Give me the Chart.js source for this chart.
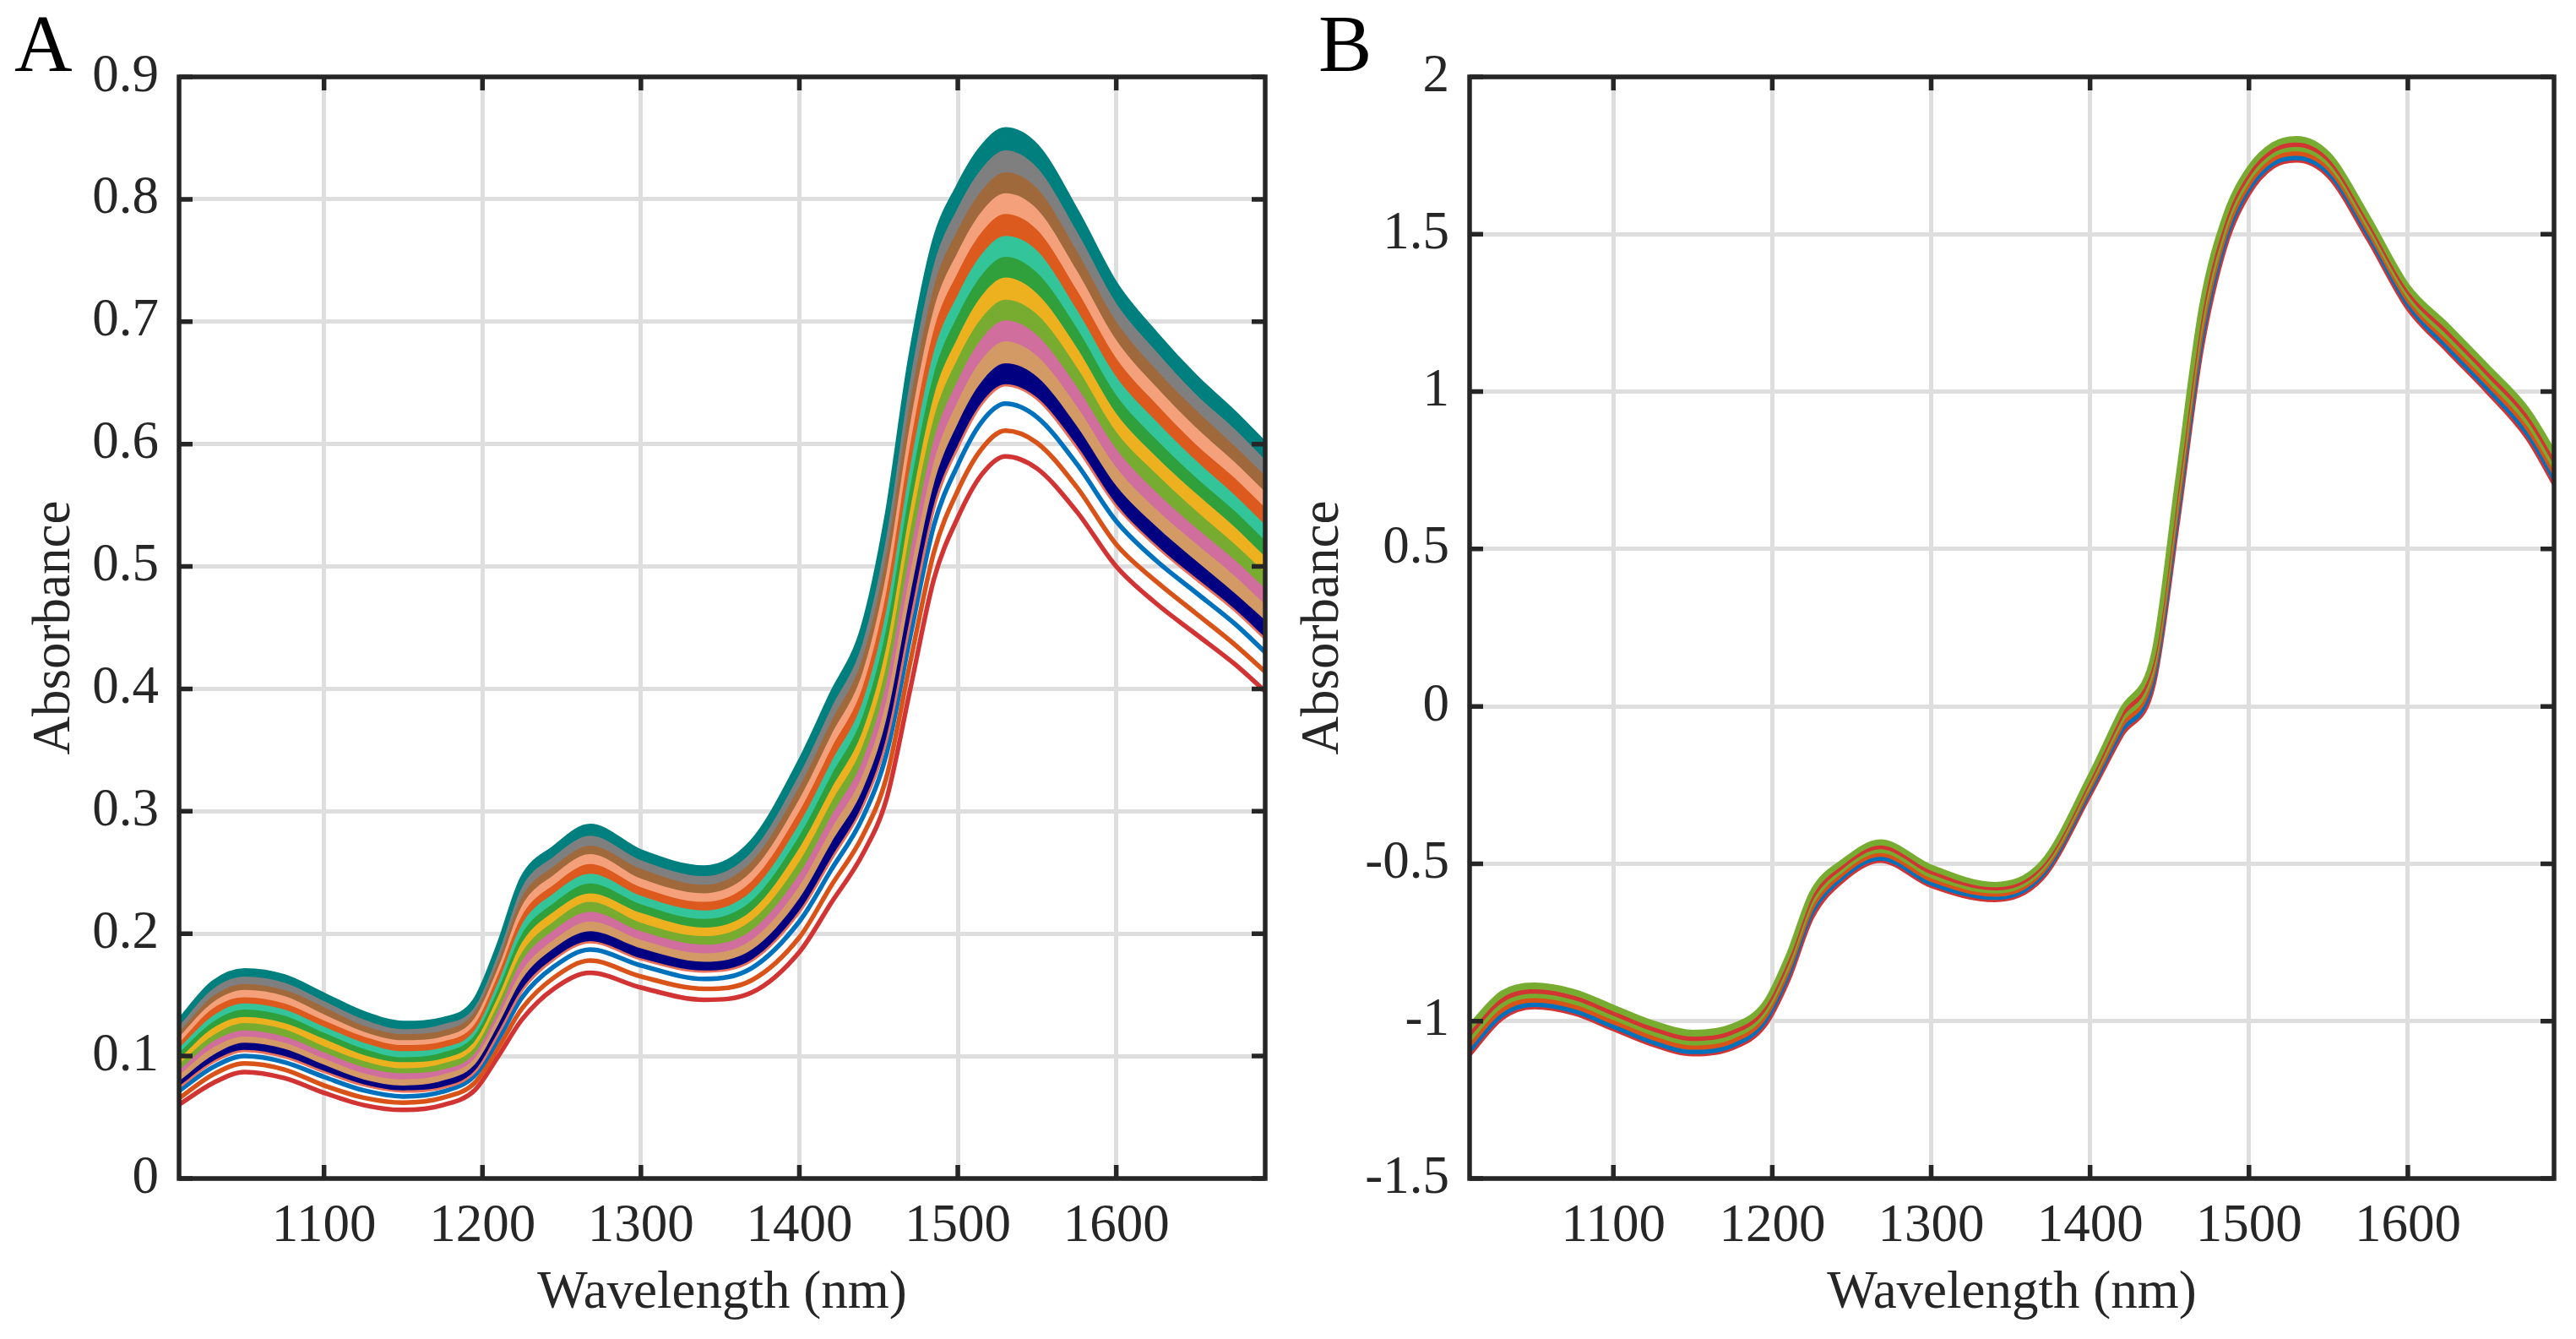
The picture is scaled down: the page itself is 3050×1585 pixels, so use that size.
<!DOCTYPE html>
<html>
<head>
<meta charset="utf-8">
<script src="https://cdn.jsdelivr.net/npm/chart.js@4.4.1/dist/chart.umd.min.js"></script>
<style>
  html, body { margin: 0; padding: 0; background: #fff; overflow: hidden; }
  #wrap { position: relative; width: 3050px; height: 1585px; }
  canvas { position: absolute; top: 0; }
  .panel { position: absolute; font-family: "Liberation Serif", serif; font-size: 95px; line-height: 1; color: #000; }
</style>
</head>
<body>
<div id="wrap">
  <canvas id="chartA" width="1525" height="1585" style="left:0px"></canvas>
  <canvas id="chartB" width="1525" height="1585" style="left:1525px"></canvas>
  <div class="panel" style="left:17px; top:5px;">A</div>
  <div class="panel" style="left:1561px; top:5px;">B</div>
</div>
<script>
// wavelengths (nm) shared by every spectrum
const wl = [1008,1030,1050,1075,1100,1125,1150,1175,1195,1210,1225,1245,1268,1300,1340,1370,1400,1420,1440,1455,1470,1485,1500,1515,1530,1550,1575,1600,1625,1650,1675,1694];

const xTicks = [1100, 1200, 1300, 1400, 1500, 1600];
const yTicksA = [0, 0.1, 0.2, 0.3, 0.4, 0.5, 0.6, 0.7, 0.8, 0.9];
const yTicksB = [-1.5, -1, -0.5, 0, 0.5, 1, 1.5, 2];

// panel A, raw absorbance, top of the band first
const a01 = [.128,.160,.170,.165,.150,.135,.127,.130,.145,.190,.245,.270,.288,.267,.254,.275,.340,.395,.450,.540,.670,.765,.810,.842,.857,.843,.790,.730,.690,.655,.625,.600];
const a02 = [.124,.155,.165,.160,.145,.130,.122,.126,.140,.184,.238,.263,.280,.260,.247,.267,.330,.384,.438,.525,.653,.747,.793,.825,.840,.826,.774,.715,.676,.641,.612,.587];
const a03 = [.119,.149,.159,.154,.140,.125,.118,.121,.136,.178,.230,.255,.272,.253,.240,.259,.320,.373,.426,.510,.635,.729,.775,.807,.822,.809,.758,.700,.661,.628,.598,.574];
const a04 = [.115,.144,.154,.149,.134,.120,.113,.116,.131,.173,.223,.248,.265,.245,.233,.251,.310,.362,.414,.495,.617,.711,.757,.790,.805,.792,.742,.685,.647,.614,.585,.561];
const a05 = [.110,.139,.148,.143,.129,.116,.109,.112,.126,.167,.215,.240,.257,.238,.226,.243,.300,.351,.402,.480,.600,.694,.740,.773,.788,.775,.726,.670,.633,.600,.572,.548];
const a06 = [.106,.133,.143,.138,.124,.111,.104,.107,.121,.161,.208,.233,.249,.231,.219,.235,.290,.340,.390,.465,.582,.676,.722,.755,.770,.758,.710,.655,.619,.587,.558,.534];
const a07 = [.102,.128,.138,.133,.119,.106,.099,.103,.117,.155,.200,.225,.241,.224,.212,.227,.280,.329,.378,.450,.565,.658,.705,.738,.753,.740,.695,.640,.604,.573,.545,.521];
const a08 = [.097,.123,.132,.127,.114,.101,.095,.098,.112,.149,.193,.218,.233,.217,.205,.219,.270,.318,.366,.435,.547,.640,.687,.721,.736,.723,.679,.625,.590,.560,.532,.508];
const a09 = [.093,.117,.127,.122,.108,.096,.090,.094,.107,.143,.185,.210,.226,.209,.198,.211,.259,.307,.354,.420,.530,.622,.670,.703,.718,.706,.663,.610,.576,.546,.518,.495];
const a10 = [.088,.112,.121,.116,.103,.091,.086,.089,.102,.137,.178,.203,.218,.202,.191,.203,.249,.296,.342,.406,.512,.604,.652,.686,.701,.689,.647,.596,.561,.532,.505,.482];
const a11 = [.084,.107,.116,.111,.098,.086,.081,.085,.098,.132,.170,.195,.210,.195,.184,.195,.239,.285,.330,.391,.495,.586,.635,.669,.684,.672,.631,.581,.547,.519,.492,.469];
const a12 = [.079,.101,.111,.106,.093,.081,.076,.080,.093,.126,.163,.188,.202,.188,.177,.187,.229,.274,.318,.376,.477,.568,.617,.651,.666,.655,.615,.566,.533,.505,.478,.456];
const a13 = [.075,.096,.105,.100,.088,.077,.072,.075,.088,.120,.155,.180,.194,.180,.170,.179,.219,.262,.306,.361,.459,.551,.599,.634,.649,.638,.599,.551,.518,.491,.465,.442];
const a14 = [.071,.091,.100,.095,.083,.072,.067,.071,.084,.114,.148,.173,.187,.174,.163,.172,.210,.252,.295,.347,.443,.534,.583,.618,.633,.622,.584,.537,.505,.479,.453,.430];
const a15 = [.065,.085,.094,.089,.076,.066,.062,.066,.078,.107,.139,.164,.178,.165,.155,.162,.197,.239,.280,.328,.422,.512,.562,.596,.611,.601,.565,.518,.488,.462,.436,.414];
const a16 = [.060,.078,.087,.082,.070,.060,.056,.060,.072,.100,.130,.155,.168,.156,.146,.152,.185,.225,.265,.310,.400,.490,.540,.575,.590,.580,.545,.500,.470,.445,.420,.398];
const spectraA = [a01,a02,a03,a04,a05,a06,a07,a08,a09,a10,a11,a12,a13,a14,a15,a16];
const colorsA = ['#007f7f','#7f7f7f','#a0693c','#f4a07a','#dd5a1e','#33c49a','#2fa03c','#edb120','#77ac30','#d06e9e','#d39a66','#000080','#e86f5a','#0072bd','#d95319','#d23434'];
// the last three sit apart from the band, not filled
const bandA = 13;

// panel B, after SNV
const b1 = [-1.025,-0.910,-0.885,-0.905,-0.955,-1.005,-1.035,-1.015,-0.945,-0.790,-0.590,-0.490,-0.430,-0.510,-0.565,-0.495,-0.220,-0.010,0.170,0.720,1.270,1.560,1.710,1.785,1.805,1.755,1.555,1.335,1.210,1.080,0.945,0.790];
const b2 = [-1.043,-0.926,-0.899,-0.919,-0.969,-1.019,-1.049,-1.029,-0.959,-0.806,-0.606,-0.502,-0.442,-0.522,-0.575,-0.505,-0.232,-0.026,0.150,0.692,1.242,1.540,1.694,1.771,1.791,1.741,1.541,1.321,1.194,1.064,0.927,0.770];
const b3 = [-1.061,-0.942,-0.913,-0.933,-0.983,-1.033,-1.063,-1.043,-0.973,-0.822,-0.622,-0.514,-0.454,-0.534,-0.585,-0.515,-0.244,-0.042,0.130,0.664,1.214,1.520,1.678,1.757,1.777,1.727,1.527,1.307,1.178,1.048,0.909,0.750];
const b4 = [-1.079,-0.958,-0.927,-0.947,-0.997,-1.047,-1.077,-1.057,-0.987,-0.838,-0.638,-0.526,-0.466,-0.546,-0.595,-0.525,-0.256,-0.058,0.110,0.636,1.186,1.500,1.662,1.743,1.763,1.713,1.513,1.293,1.162,1.032,0.891,0.730];
const b5 = [-1.097,-0.974,-0.941,-0.961,-1.011,-1.061,-1.091,-1.071,-1.001,-0.854,-0.654,-0.538,-0.478,-0.558,-0.605,-0.535,-0.268,-0.074,0.090,0.608,1.158,1.480,1.646,1.729,1.749,1.699,1.499,1.279,1.146,1.016,0.873,0.710];
const b6 = [-1.115,-0.990,-0.955,-0.975,-1.025,-1.075,-1.105,-1.085,-1.015,-0.870,-0.670,-0.550,-0.490,-0.570,-0.615,-0.545,-0.280,-0.090,0.070,0.580,1.130,1.460,1.630,1.715,1.735,1.685,1.485,1.265,1.130,1.000,0.855,0.690];
const spectraB = [b1,b2,b3,b4,b5,b6];
const colorsB = ['#77ac30','#d23434','#77ac30','#d95319','#0072bd','#d23434'];

const ink = '#262626';
const serif = "'Liberation Serif', 'Times New Roman', serif";

// box round the plot and the inward tick marks, like matlab
const frame = {
    id: 'frame',
    afterDatasetsDraw(chart) {
        const ctx = chart.ctx;
        const a = chart.chartArea;
        const sx = chart.scales.x;
        const sy = chart.scales.y;
        ctx.save();
        ctx.strokeStyle = ink;
        ctx.lineWidth = 5.5;
        ctx.beginPath();
        sx.ticks.forEach(t => {
            let px = sx.getPixelForValue(t.value);
            ctx.moveTo(px, a.bottom); ctx.lineTo(px, a.bottom - 16);
            ctx.moveTo(px, a.top); ctx.lineTo(px, a.top + 16);
        });
        sy.ticks.forEach(t => {
            let py = sy.getPixelForValue(t.value);
            ctx.moveTo(a.left, py); ctx.lineTo(a.left + 16, py);
            ctx.moveTo(a.right, py); ctx.lineTo(a.right - 16, py);
        });
        ctx.stroke();
        ctx.strokeRect(a.left, a.top, a.right - a.left, a.bottom - a.top);
        ctx.restore();
    }
};

function buildSets(spectra, colors, band) {
    var sets = [];
    for (let i = 0; i < spectra.length; i++) {
        sets.push({
            data: spectra[i].map((v, j) => ({x: wl[j], y: v})),
            borderColor: colors[i],
            backgroundColor: colors[i],
            borderWidth: 5.5,
            pointRadius: 0,
            cubicInterpolationMode: 'monotone',
            fill: i < band - 1 ? '+1' : false
        });
    }
    return sets;
}

function makeChart(id, sets, o) {
    return new Chart(document.getElementById(id), {
        type: 'line',
        data: { datasets: sets },
        options: {
            responsive: false,
            animation: false,
            devicePixelRatio: 1,
            layout: { padding: { left: 0, top: 91, right: o.padRight, bottom: 0 } },
            plugins: { legend: { display: false }, tooltip: { enabled: false } },
            scales: {
                x: {
                    type: 'linear',
                    min: o.xMin,
                    max: o.xMax,
                    afterBuildTicks: s => { s.ticks = xTicks.map(v => ({value: v})); },
                    afterFit: s => { s.height = 190; },
                    grid: { color: '#dedede', lineWidth: 5, drawTicks: false },
                    border: { display: false },
                    ticks: {
                        autoSkip: false, maxRotation: 0, padding: 20, color: ink,
                        font: { family: serif, size: 63 },
                        callback: v => String(v)
                    },
                    title: {
                        display: true, text: 'Wavelength (nm)', color: ink,
                        font: { family: serif, size: 63 },
                        padding: { top: 0, bottom: 16 }
                    }
                },
                y: {
                    min: o.yMin,
                    max: o.yMax,
                    afterBuildTicks: s => { s.ticks = o.yTicks.map(v => ({value: v})); },
                    afterFit: s => { s.width = o.left; },
                    grid: { color: '#dedede', lineWidth: 5, drawTicks: false },
                    border: { display: false },
                    ticks: {
                        padding: 24, color: ink,
                        font: { family: serif, size: 63 },
                        callback: v => String(v)
                    },
                    title: {
                        display: true, text: 'Absorbance', color: ink,
                        font: { family: serif, size: 63 },
                        padding: { top: o.titlePad, bottom: 0 }
                    }
                }
            }
        },
        plugins: [frame]
    });
}

makeChart('chartA', buildSets(spectraA, colorsA, bandA), {
    xMin: 1008.5, xMax: 1694, yMin: 0, yMax: 0.9, yTicks: yTicksA,
    left: 212, padRight: 27, titlePad: 28
});

makeChart('chartB', buildSets(spectraB, colorsB, spectraB.length), {
    xMin: 1009.5, xMax: 1692, yMin: -1.5, yMax: 2, yTicks: yTicksB,
    left: 215, padRight: 26, titlePad: 5
});
</script>
</body>
</html>
